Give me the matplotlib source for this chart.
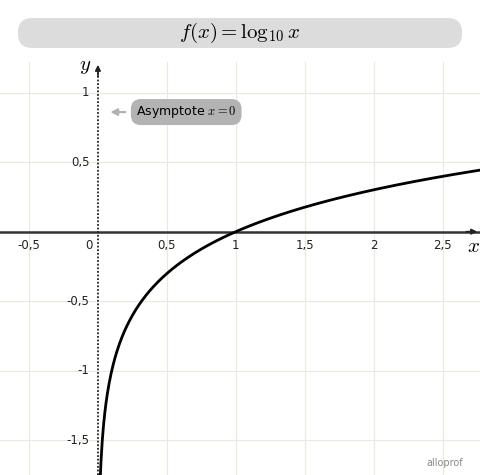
import numpy as np
import matplotlib
matplotlib.use("Agg")
import matplotlib.pyplot as plt
from matplotlib.patches import FancyBboxPatch

plt.rcParams["mathtext.fontset"] = "cm"

x_ticks = [-0.5, 0.5, 1, 1.5, 2, 2.5]
x_labels = ["-0,5", "0,5", "1", "1,5", "2", "2,5"]
y_ticks = [1, 0.5, -0.5, -1, -1.5]
y_labels = ["1", "0,5", "-0,5", "-1", "-1,5"]

fig = plt.figure(figsize=(4.8, 4.75), dpi=100)
ax = fig.add_axes([0, 0, 1, 413/475])
ax.set_xlim(-0.71, 2.77)
ax.set_ylim(-1.75, 1.22)
for s in ax.spines.values():
    s.set_visible(False)
ax.set_xticks([]); ax.set_yticks([])
gc = "#ece8e0"
for v in [-0.5, 0.5, 1, 1.5, 2, 2.5]:
    ax.axvline(v, color=gc, lw=0.8, zorder=0)
for v in [1, 0.5, -0.5, -1, -1.5]:
    ax.axhline(v, color=gc, lw=0.8, zorder=0)
ax.axhline(0, color="#333333", lw=1.8, zorder=2)
ax.plot([0, 0], [-1.75, 1.17], color="#222222", lw=1.3, ls=(0, (1, 1)), zorder=2)
ax.annotate("", xy=(0, 1.22), xytext=(0, 1.1),
            arrowprops=dict(arrowstyle="-|>", color="#222222", lw=1.2, mutation_scale=8))
ax.annotate("", xy=(2.77, 0), xytext=(2.65, 0),
            arrowprops=dict(arrowstyle="-|>", color="#222222", lw=1.2, mutation_scale=8))
for v, l in zip(x_ticks, x_labels):
    ax.text(v, -0.05, l, ha="center", va="top", fontsize=8.5, color="#222222")
ax.text(-0.04, -0.05, "0", ha="right", va="top", fontsize=8.5, color="#222222")
for v, l in zip(y_ticks, y_labels):
    ax.text(-0.06, v, l, ha="right", va="center", fontsize=8.5, color="#222222")
ax.text(2.72, -0.03, "$x$", ha="center", va="top", fontsize=15)
ax.text(-0.09, 1.19, "$y$", ha="center", va="center", fontsize=15)

xs = np.linspace(0.0176, 2.77, 600)
ax.plot(xs, np.log10(xs), color="black", lw=2, zorder=3)

ax.annotate("", xy=(0.07, 0.86), xytext=(0.22, 0.86),
            arrowprops=dict(arrowstyle="-|>", color="#b0b0b0", lw=1.5, mutation_scale=10))
ax.text(0.64, 0.86, "Asymptote $x = 0$", ha="center", va="center", fontsize=9,
        bbox=dict(boxstyle="round,pad=0.4,rounding_size=0.8", fc="#b3b3b3", ec="none"))

tb = FancyBboxPatch((18/480, 1 - 48/475), 444/480, 30/475,
                    boxstyle="round,pad=0,rounding_size=0.03", transform=fig.transFigure,
                    fc="#dcdcdc", ec="none")
fig.patches.append(tb)
fig.text(0.5, 1 - 33/475, r"$f(x) = \log_{10} x$", ha="center", va="center", fontsize=15)
fig.text(0.965, 0.015, "alloprof", ha="right", va="bottom", fontsize=7, color="#888888")
fig.savefig("out.png", dpi=100)
